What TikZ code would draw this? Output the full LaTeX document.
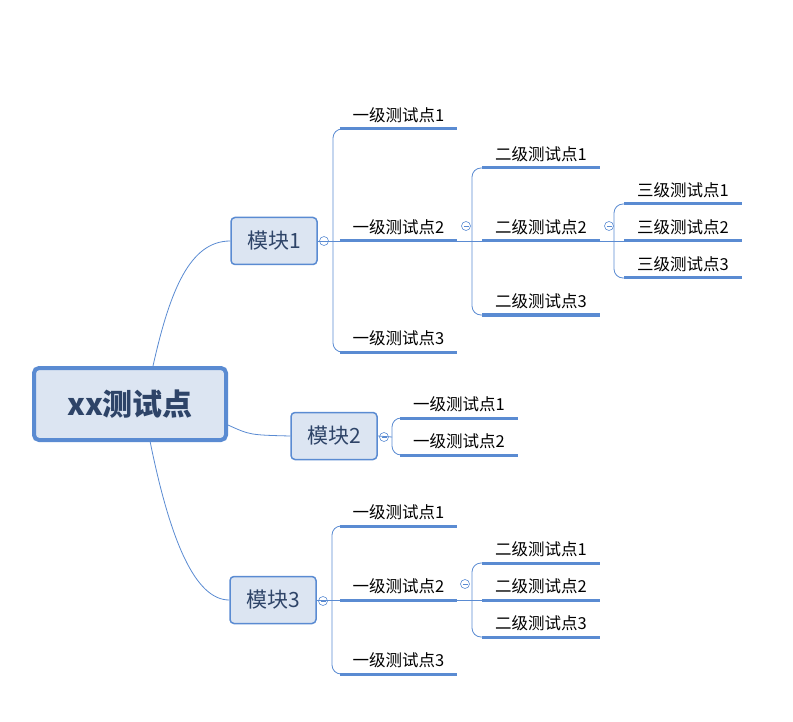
\documentclass[tikz,border=0pt]{standalone}
\usepackage{fontspec}
\setmainfont{Noto Sans CJK SC}
\usetikzlibrary{positioning}
\definecolor{mapblue}{HTML}{5A8BD2}
\definecolor{mapfill}{HTML}{DCE5F2}
\definecolor{maptext}{HTML}{2E4468}
\tikzset{
  root/.style={draw=mapblue,line width=4pt,fill=mapfill,rounded corners=5pt,
    minimum width=192pt,minimum height=72pt,font=\fontsize{30}{33}\selectfont\bfseries,text=maptext},
  module/.style={draw=mapblue,line width=1.5pt,fill=mapfill,rounded corners=4pt,
    minimum width=86pt,minimum height=47pt,font=\fontsize{21}{24}\selectfont,text=maptext},
  leaf/.style={anchor=south,minimum width=117pt,inner xsep=0pt,inner ysep=6pt,
    font=\fontsize{16.5}{19}\selectfont},
  uline/.style={draw=mapblue,line width=3pt},
  link/.style={draw=mapblue,line width=0.8pt},
  fork/.style={link,rounded corners=9pt},
  toggle/.style={circle,draw=mapblue,line width=0.6pt,minimum size=9pt,inner sep=0pt,
    path picture={\draw[mapblue,line width=0.6pt] ([xshift=-2.5pt]path picture bounding box.center) -- ([xshift=2.5pt]path picture bounding box.center);}}
}
\newcommand{\leafline}[1]{\draw[uline] (#1.south west) -- (#1.south east);}
\begin{document}
\begin{tikzpicture}[x=1pt,y=-1pt]
\useasboundingbox (0,0) rectangle (793,722);
% main topic and modules
\node[root] (root) at (130,404) {xx测试点};
\node[module] (m1) at (274,241) {模块1};
\node[module] (m2) at (334,436) {模块2};
\node[module] (m3) at (273,600) {模块3};
\draw[link] (153,366) .. controls (170,290) and (190,241) .. (m1.west);
\draw[link] (root.east |- 0,425) .. controls (250,435) .. (m2.west);
\draw[link] (150,441) .. controls (170,540) and (195,600) .. (m3.west);
% module 1
\node[toggle] (t1) at (324,241) {};
\node[leaf] (a1) at (398.5,129) {一级测试点1};
\node[leaf] (a2) at (398.5,241) {一级测试点2};
\node[leaf] (a3) at (398.5,352) {一级测试点3};
\foreach \n in {a1,a2,a3} {\leafline{\n}}
\coordinate (f1) at (333,241);
\draw[link] (m1.east) -- (a2.south west);
\draw[fork] (f1) |- (a1.south west);
\draw[fork] (f1) |- (a3.south west);
\node[toggle] (t2) at (466,226) {};
\node[leaf] (b1) at (541,168) {二级测试点1};
\node[leaf] (b2) at (541,241) {二级测试点2};
\node[leaf] (b3) at (541,315) {二级测试点3};
\foreach \n in {b1,b2,b3} {\leafline{\n}}
\coordinate (f2) at (472,241);
\draw[link] (a2.south east) -- (b2.south west);
\draw[fork] (f2) |- (b1.south west);
\draw[fork] (f2) |- (b3.south west);
\node[toggle] (t3) at (609,226) {};
\node[leaf] (c1) at (683,204) {三级测试点1};
\node[leaf] (c2) at (683,241) {三级测试点2};
\node[leaf] (c3) at (683,278) {三级测试点3};
\foreach \n in {c1,c2,c3} {\leafline{\n}}
\coordinate (f3) at (614,241);
\draw[link] (b2.south east) -- (c2.south west);
\draw[fork] (f3) |- (c1.south west);
\draw[fork] (f3) |- (c3.south west);
% module 2
\node[toggle] (t4) at (384,437) {};
\node[leaf] (d1) at (459,418) {一级测试点1};
\node[leaf] (d2) at (459,455) {一级测试点2};
\foreach \n in {d1,d2} {\leafline{\n}}
\coordinate (f4) at (392,437);
\draw[link] (m2.east) -- (f4);
\draw[fork] (f4) |- (d1.south west);
\draw[fork] (f4) |- (d2.south west);
% module 3
\node[toggle] (t5) at (323,601) {};
\node[leaf] (e1) at (398.5,526) {一级测试点1};
\node[leaf] (e2) at (398.5,600) {一级测试点2};
\node[leaf] (e3) at (398.5,674) {一级测试点3};
\foreach \n in {e1,e2,e3} {\leafline{\n}}
\coordinate (f5) at (332,600);
\draw[link] (m3.east) -- (e2.south west);
\draw[fork] (f5) |- (e1.south west);
\draw[fork] (f5) |- (e3.south west);
\node[toggle] (t6) at (465,584) {};
\node[leaf] (g1) at (541,563) {二级测试点1};
\node[leaf] (g2) at (541,600) {二级测试点2};
\node[leaf] (g3) at (541,637) {二级测试点3};
\foreach \n in {g1,g2,g3} {\leafline{\n}}
\coordinate (f6) at (472,600);
\draw[link] (e2.south east) -- (g2.south west);
\draw[fork] (f6) |- (g1.south west);
\draw[fork] (f6) |- (g3.south west);
\end{tikzpicture}
\end{document}
